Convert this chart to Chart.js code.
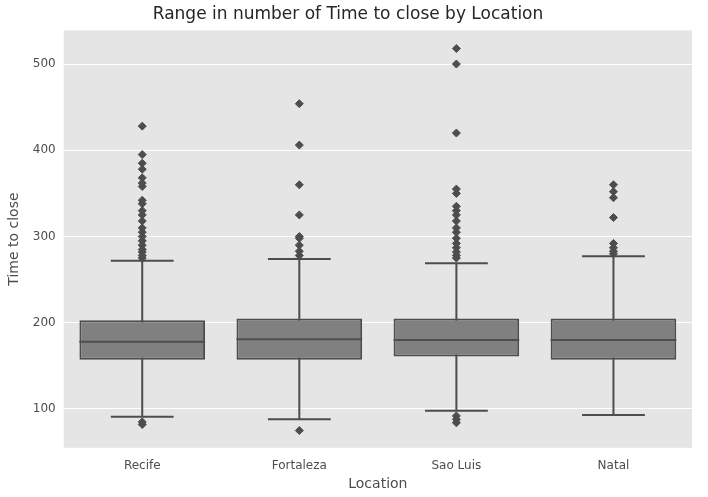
<!DOCTYPE html>
<html>
<head>
<script src="https://cdn.jsdelivr.net/npm/chart.js@4"></script>
<style>
body { margin: 0; background: #fff; }
#wrap { width: 708px; height: 497px; }
</style>
</head>
<body>
<div id="wrap"><canvas id="myChart"></canvas></div>
<script>
const locations = ['Recife', 'Fortaleza', 'Sao Luis', 'Natal'];
const q1 = [157, 157, 161, 157];
const medians = [178, 181, 180, 180];
const q3 = [203, 205, 205, 205];
const whiskLow = [91, 88, 98, 93];
const whiskHigh = [272, 274, 269, 277];
const outliers = [
    [82, 85, 275, 278, 282, 285, 290, 295, 300, 305, 310, 318, 325, 330, 338, 342, 358, 362, 368, 378, 385, 395, 428],
    [75, 278, 283, 290, 298, 300, 325, 360, 406, 454],
    [84, 88, 92, 275, 278, 282, 287, 292, 298, 305, 310, 318, 325, 330, 335, 350, 355, 420, 500, 518],
    [280, 283, 287, 292, 322, 345, 352, 360]
];
const yTicks = [100, 200, 300, 400, 500];

const lineColor = '#4d4d4d';

const outlierPoints = [];
outliers.forEach((vals, i) => vals.forEach(v => outlierPoints.push({x: locations[i], y: v})));

const bgPlugin = {
    id: 'bg',
    beforeDraw(chart) {
        const {ctx, chartArea: a} = chart;
        ctx.save();
        ctx.fillStyle = '#e5e5e5';
        ctx.fillRect(a.left, a.top, a.right - a.left, a.bottom - a.top);
        ctx.restore();
    }
};

const whiskerPlugin = {
    id: 'whiskers',
    beforeDatasetsDraw(chart) {
        const ctx = chart.ctx, x = chart.scales.x, y = chart.scales.y;
        const half = (x.getPixelForValue(1) - x.getPixelForValue(0)) * 0.2;
        ctx.save();
        ctx.strokeStyle = lineColor;
        ctx.lineWidth = 2;
        locations.forEach((loc, i) => {
            const cx = x.getPixelForValue(i);
            ctx.beginPath();
            ctx.moveTo(cx, y.getPixelForValue(whiskLow[i]));
            ctx.lineTo(cx, y.getPixelForValue(whiskHigh[i]));
            [whiskLow[i], whiskHigh[i]].forEach(v => {
                ctx.moveTo(cx - half, y.getPixelForValue(v));
                ctx.lineTo(cx + half, y.getPixelForValue(v));
            });
            ctx.stroke();
        });
        ctx.restore();
    },
    afterDatasetsDraw(chart) {
        const ctx = chart.ctx, x = chart.scales.x, y = chart.scales.y;
        const half = (x.getPixelForValue(1) - x.getPixelForValue(0)) * 0.4;
        ctx.save();
        ctx.strokeStyle = lineColor;
        ctx.lineWidth = 2;
        locations.forEach((loc, i) => {
            const cx = x.getPixelForValue(i);
            const my = y.getPixelForValue(medians[i]);
            ctx.beginPath();
            ctx.moveTo(cx - half, my);
            ctx.lineTo(cx + half, my);
            ctx.stroke();
        });
        ctx.restore();
    }
};

new Chart(document.getElementById('myChart'), {
    data: {
        labels: locations,
        datasets: [
            {
                type: 'bar',
                data: locations.map((l, i) => [q1[i], q3[i]]),
                backgroundColor: '#808080',
                borderColor: lineColor,
                borderWidth: 2,
                borderSkipped: false,
                categoryPercentage: 1,
                barPercentage: 0.8,
                order: 2
            },
            {
                type: 'line',
                data: outlierPoints,
                showLine: false,
                pointStyle: 'rectRot',
                pointRadius: 4,
                backgroundColor: lineColor,
                borderColor: lineColor,
                order: 1
            }
        ]
    },
    options: {
        responsive: true,
        maintainAspectRatio: false,
        animation: false,
        layout: {padding: {left: 4, right: 16, top: 0, bottom: 4}},
        plugins: {
            legend: {display: false},
            tooltip: {enabled: false},
            title: {
                display: true,
                text: 'Range in number of Time to close by Location',
                color: '#262626',
                font: {size: 17, family: 'DejaVu Sans', weight: 'normal'},
                padding: {top: 4, bottom: 6}
            }
        },
        scales: {
            x: {
                grid: {display: false},
                border: {display: false},
                ticks: {color: lineColor, font: {size: 12, family: 'DejaVu Sans'}},
                title: {display: true, text: 'Location', color: lineColor, font: {size: 14, family: 'DejaVu Sans'}, padding: 0}
            },
            y: {
                min: 55,
                max: 539,
                afterBuildTicks(axis) { axis.ticks = yTicks.map(v => ({value: v})); },
                grid: {color: '#ffffff', lineWidth: 1, drawTicks: false},
                border: {display: false},
                ticks: {color: lineColor, padding: 8, font: {size: 12, family: 'DejaVu Sans'}},
                title: {display: true, text: 'Time to close', color: lineColor, font: {size: 14, family: 'DejaVu Sans'}, padding: 2}
            }
        }
    },
    plugins: [bgPlugin, whiskerPlugin]
});
</script>
</body>
</html>
